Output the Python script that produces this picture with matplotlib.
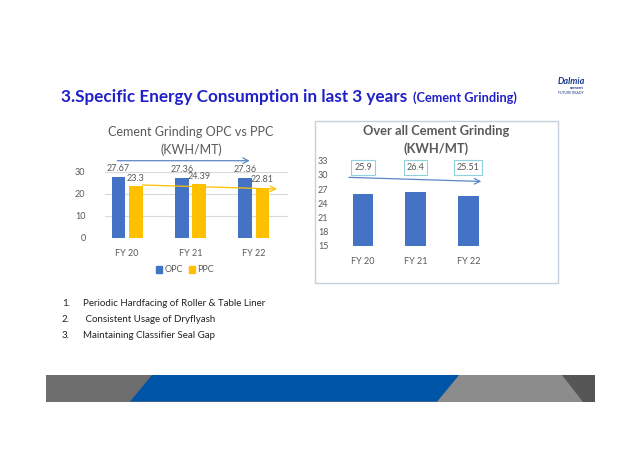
import matplotlib.pyplot as plt
from matplotlib.patches import Polygon, Rectangle

plt.rcParams['font.family'] = ['Lato', 'DejaVu Sans']

# data
years = ['FY 20', 'FY 21', 'FY 22']
opc = [27.67, 27.36, 27.36]
ppc = [23.3, 24.39, 22.81]
overall = [25.9, 26.4, 25.51]
overall_ticks = [15, 18, 21, 24, 27, 30, 33]
left_ticks = [0, 10, 20, 30]
points = ['Periodic Hardfacing of Roller & Table Liner',
          ' Consistent Usage of Dryflyash',
          'Maintaining Classifier Seal Gap']

W, H = 638, 451
BLUE = '#4472C4'
GOLD = '#FFC000'
GREY = '#595959'

fig = plt.figure(figsize=(W / 100, H / 100), dpi=100)

# slide background layer in pixel coords
bg = fig.add_axes([0, 0, 1, 1], zorder=0)
bg.set_xlim(0, W)
bg.set_ylim(H, 0)
bg.axis('off')

def fbox(x0, y0, x1, y1):
    # pixel box -> figure fraction [left, bottom, width, height]
    return [x0 / W, 1 - y1 / H, (x1 - x0) / W, (y1 - y0) / H]

# header
t = bg.text(61, 97, '3.Specific Energy Consumption in last 3 years', fontsize=12.3,
            fontweight='bold', color='#2020C8', va='center', ha='left')
bg.annotate('(Cement Grinding)', xy=(1, 0.45), xycoords=t, xytext=(4, 0),
            textcoords='offset points', fontsize=9.2, fontweight='bold',
            color='#2020C8', va='center', ha='left')
bg.text(571, 82, 'Dalmia', fontsize=6.5, fontweight='bold', style='italic',
        color='#1A3A8C', ha='center', va='center')
bg.text(584, 88, 'cement', fontsize=3, fontweight='bold', color='#1A3A8C',
        ha='right', va='center')
bg.text(571, 93, 'FUTURE READY', fontsize=2.5, color='#1A3A8C', ha='center', va='center')

# right chart frame
bg.add_patch(Rectangle((315, 121), 243, 162, fill=False, ec='#C5D0DA', lw=1))

# bullet list
for i, p in enumerate(points):
    y = 304 + i * 15.5
    bg.text(62, y, f'{i + 1}.', fontsize=7, color='#222222', va='center')
    bg.text(83, y, p, fontsize=7, color='#222222', va='center')

# footer band
bg.add_patch(Polygon([(46, 375), (595, 375), (595, 401.5), (46, 401.5)], color='#6E6E6E', lw=0))
bg.add_patch(Polygon([(459, 375), (595, 375), (595, 401.5), (437, 401.5)], color='#8C8C8C', lw=0))
bg.add_patch(Polygon([(152, 375), (459, 375), (437, 401.5), (130, 401.5)], color='#0055A8', lw=0))
bg.add_patch(Polygon([(562, 375), (595, 375), (595, 401.5), (583, 401.5)], color='#565656', lw=0))

# ---- left chart: OPC vs PPC
ax1 = fig.add_axes(fbox(105, 171.7, 288, 237.7), zorder=1)
ax1.patch.set_alpha(0)
x = list(range(len(years)))
bw = 0.22
off = 0.137
b1 = ax1.bar([i - off for i in x], opc, bw, color=BLUE, zorder=2)
b2 = ax1.bar([i + off for i in x], ppc, bw, color=GOLD, zorder=2)
for bars, vals in ((b1, opc), (b2, ppc)):
    for r, v in zip(bars, vals):
        ax1.annotate(f'{v:g}', (r.get_x() + r.get_width() / 2, v), xytext=(0, 2.5),
                     textcoords='offset points', ha='center', va='bottom',
                     fontsize=6.5, color=GREY, annotation_clip=False)
ax1.set_xlim(-0.35, 2.54)
ax1.set_ylim(0, 30)
ax1.set_yticks(left_ticks)
ax1.set_xticks(x)
ax1.set_xticklabels(years)
ax1.grid(axis='y', color='#D9D9D9', lw=0.8, zorder=0)
for s in ax1.spines.values():
    s.set_visible(False)
ax1.tick_params(length=0, labelsize=6.5, colors=GREY, pad=8)
ax1.tick_params(axis='y', pad=14)
ax1.annotate('', xy=(1.98, 35), xytext=(-0.2, 35), annotation_clip=False,
             arrowprops=dict(arrowstyle='->', color='#5B87C5', lw=0.9))
ax1.annotate('', xy=(2.41, 22.1), xytext=(0.2, 24), annotation_clip=False,
             arrowprops=dict(arrowstyle='->', color=GOLD, lw=0.9))
bg.text(191, 132, 'Cement Grinding OPC vs PPC', fontsize=9, color=GREY, ha='center', va='center')
bg.text(191, 150, '(KWH/MT)', fontsize=9, color=GREY, ha='center', va='center')
handles = [Rectangle((0, 0), 1, 1, color=BLUE), Rectangle((0, 0), 1, 1, color=GOLD)]
fig.legend(handles, ['OPC', 'PPC'], loc='center', bbox_to_anchor=(185 / W, 1 - 270 / H),
           ncol=2, frameon=False, fontsize=6.5, labelcolor=GREY, handlelength=0.7,
           handleheight=0.7, handletextpad=0.3, columnspacing=0.6)

# ---- right chart: overall
ax2 = fig.add_axes(fbox(336.7, 160.7, 543, 246), zorder=1)
ax2.patch.set_alpha(0)
ax2.bar(x, overall, 0.39, color=BLUE, zorder=2)
for i, v in enumerate(overall):
    ax2.text(i, 31.6, f'{v:g}', ha='center', va='center', fontsize=6.5, color=GREY,
             bbox=dict(boxstyle='square,pad=0.3', fc='white', ec='#8FD3E0', lw=0.8))
ax2.set_xlim(-0.5, 3.42)
ax2.set_ylim(15, 33)
ax2.set_yticks(overall_ticks)
ax2.set_xticks(x)
ax2.set_xticklabels(years)
for s in ax2.spines.values():
    s.set_visible(False)
ax2.axhline(15, color='#D9D9D9', lw=0.8, zorder=1)
ax2.tick_params(length=0, labelsize=6.5, colors=GREY, pad=8)
ax2.tick_params(axis='y', pad=6)
ax2.annotate('', xy=(2.3, 28.6), xytext=(-0.32, 29.5), annotation_clip=False,
             arrowprops=dict(arrowstyle='->', color='#5B87C5', lw=0.9))
bg.text(436, 131, 'Over all Cement Grinding', fontsize=9.3, fontweight='bold',
        color=GREY, ha='center', va='center')
bg.text(436, 148.5, '(KWH/MT)', fontsize=9.3, fontweight='bold', color=GREY,
        ha='center', va='center')

fig.savefig('out.png', dpi=100, facecolor='white')
